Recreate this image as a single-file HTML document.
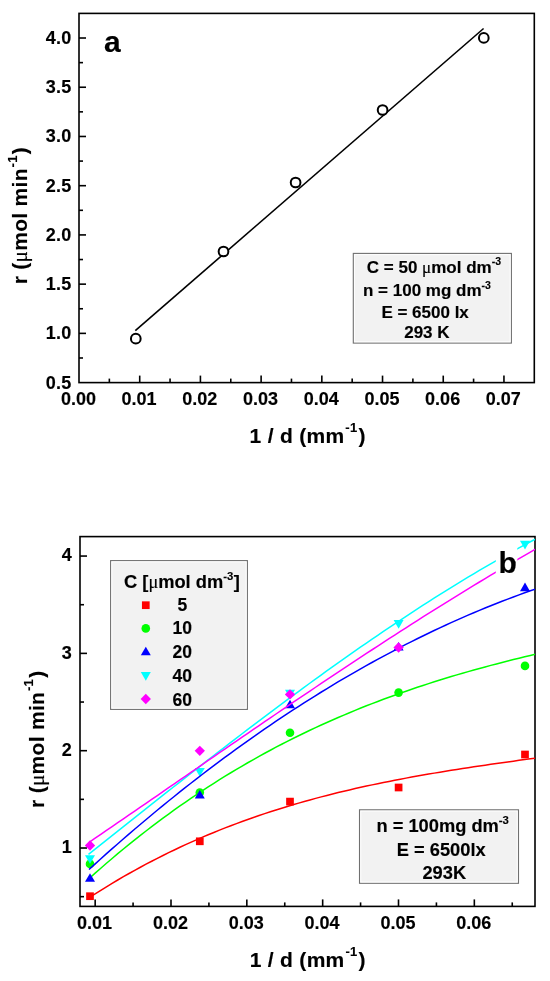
<!DOCTYPE html><html><head><meta charset="utf-8"><style>html,body{margin:0;padding:0;background:#fff;}svg{display:block;filter:blur(0.3px);}text{font-family:"Liberation Sans", Arial, sans-serif;font-weight:bold;fill:#000;stroke:#000;stroke-width:0.15px;}.mu{font-family:"Liberation Serif", "Times New Roman", serif;font-weight:normal;stroke-width:0.2px;}.ttl{letter-spacing:0.3px;}</style></head><body>
<svg width="550" height="981" viewBox="0 0 550 981">
<rect x="0" y="0" width="550" height="981" fill="#fff"/>
<g stroke="#000" stroke-width="1.6" fill="none">
<rect x="79.0" y="13.4" width="455.30" height="369.20"/>
<line x1="109.35" y1="382.6" x2="109.35" y2="378.6"/>
<line x1="139.71" y1="382.6" x2="139.71" y2="375.6"/>
<line x1="170.06" y1="382.6" x2="170.06" y2="378.6"/>
<line x1="200.41" y1="382.6" x2="200.41" y2="375.6"/>
<line x1="230.77" y1="382.6" x2="230.77" y2="378.6"/>
<line x1="261.12" y1="382.6" x2="261.12" y2="375.6"/>
<line x1="291.47" y1="382.6" x2="291.47" y2="378.6"/>
<line x1="321.83" y1="382.6" x2="321.83" y2="375.6"/>
<line x1="352.18" y1="382.6" x2="352.18" y2="378.6"/>
<line x1="382.53" y1="382.6" x2="382.53" y2="375.6"/>
<line x1="412.89" y1="382.6" x2="412.89" y2="378.6"/>
<line x1="443.24" y1="382.6" x2="443.24" y2="375.6"/>
<line x1="473.59" y1="382.6" x2="473.59" y2="378.6"/>
<line x1="503.95" y1="382.6" x2="503.95" y2="375.6"/>
<line x1="79.0" y1="357.99" x2="83.0" y2="357.99"/>
<line x1="79.0" y1="333.37" x2="86.0" y2="333.37"/>
<line x1="79.0" y1="308.76" x2="83.0" y2="308.76"/>
<line x1="79.0" y1="284.15" x2="86.0" y2="284.15"/>
<line x1="79.0" y1="259.53" x2="83.0" y2="259.53"/>
<line x1="79.0" y1="234.92" x2="86.0" y2="234.92"/>
<line x1="79.0" y1="210.31" x2="83.0" y2="210.31"/>
<line x1="79.0" y1="185.69" x2="86.0" y2="185.69"/>
<line x1="79.0" y1="161.08" x2="83.0" y2="161.08"/>
<line x1="79.0" y1="136.47" x2="86.0" y2="136.47"/>
<line x1="79.0" y1="111.85" x2="83.0" y2="111.85"/>
<line x1="79.0" y1="87.24" x2="86.0" y2="87.24"/>
<line x1="79.0" y1="62.63" x2="83.0" y2="62.63"/>
<line x1="79.0" y1="38.01" x2="86.0" y2="38.01"/>
</g>
<text x="71.6" y="388.60" font-size="18" text-anchor="end" letter-spacing="0.25">0.5</text>
<text x="71.6" y="339.37" font-size="18" text-anchor="end" letter-spacing="0.25">1.0</text>
<text x="71.6" y="290.15" font-size="18" text-anchor="end" letter-spacing="0.25">1.5</text>
<text x="71.6" y="240.92" font-size="18" text-anchor="end" letter-spacing="0.25">2.0</text>
<text x="71.6" y="191.69" font-size="18" text-anchor="end" letter-spacing="0.25">2.5</text>
<text x="71.6" y="142.47" font-size="18" text-anchor="end" letter-spacing="0.25">3.0</text>
<text x="71.6" y="93.24" font-size="18" text-anchor="end" letter-spacing="0.25">3.5</text>
<text x="71.6" y="44.01" font-size="18" text-anchor="end" letter-spacing="0.25">4.0</text>
<text x="78.40" y="404.6" font-size="18" text-anchor="middle">0.00</text>
<text x="139.11" y="404.6" font-size="18" text-anchor="middle">0.01</text>
<text x="199.81" y="404.6" font-size="18" text-anchor="middle">0.02</text>
<text x="260.52" y="404.6" font-size="18" text-anchor="middle">0.03</text>
<text x="321.23" y="404.6" font-size="18" text-anchor="middle">0.04</text>
<text x="381.93" y="404.6" font-size="18" text-anchor="middle">0.05</text>
<text x="442.64" y="404.6" font-size="18" text-anchor="middle">0.06</text>
<text x="503.35" y="404.6" font-size="18" text-anchor="middle">0.07</text>
<line x1="135.3" y1="330.6" x2="483.6" y2="28.5" stroke="#000" stroke-width="1.6"/>
<circle cx="135.8" cy="338.7" r="4.85" fill="#fff" stroke="#000" stroke-width="2.0"/>
<circle cx="223.5" cy="251.5" r="4.85" fill="#fff" stroke="#000" stroke-width="2.0"/>
<circle cx="295.6" cy="182.5" r="4.85" fill="#fff" stroke="#000" stroke-width="2.0"/>
<circle cx="382.6" cy="110.0" r="4.85" fill="#fff" stroke="#000" stroke-width="2.0"/>
<circle cx="483.8" cy="37.9" r="4.85" fill="#fff" stroke="#000" stroke-width="2.0"/>
<text x="104" y="52.3" font-size="30">a</text>
<rect x="353.3" y="253.4" width="158.10" height="89.70" fill="#f2f2f2" stroke="#707070" stroke-width="1.1"/>
<rect x="354.60" y="254.70" width="155.50" height="87.10" fill="none" stroke="#ffffff" stroke-width="0.9"/>
<text font-size="17"><tspan x="366.8" y="272.6">C = 50 <tspan class="mu">μ</tspan>mol dm<tspan font-size="10.5" dy="-7.7">-3</tspan></tspan><tspan x="363.0" y="296.3">n = 100 mg dm<tspan font-size="10.5" dy="-7.7">-3</tspan></tspan><tspan x="381.4" y="317.5">E = 6500 lx</tspan><tspan x="404.2" y="338.2">293 K</tspan></text>
<text x="249.6" y="442.9" font-size="21" class="ttl">1 / d (mm<tspan font-size="13" dy="-10.6" dx="0.8">-1</tspan><tspan dy="10.6" dx="1">)</tspan></text>
<text transform="translate(27.2,284.3) rotate(-90)" font-size="21" class="ttl">r (<tspan class="mu">μ</tspan>mol min<tspan font-size="13" dy="-10.6" dx="0.8">-1</tspan><tspan dy="10.6" dx="1">)</tspan></text>
<g stroke="#000" stroke-width="1.6" fill="none">
<rect x="80.0" y="536.6" width="455.00" height="369.80"/>
<line x1="95.17" y1="906.4" x2="95.17" y2="899.4"/>
<line x1="133.08" y1="906.4" x2="133.08" y2="902.4"/>
<line x1="171.00" y1="906.4" x2="171.00" y2="899.4"/>
<line x1="208.92" y1="906.4" x2="208.92" y2="902.4"/>
<line x1="246.83" y1="906.4" x2="246.83" y2="899.4"/>
<line x1="284.75" y1="906.4" x2="284.75" y2="902.4"/>
<line x1="322.67" y1="906.4" x2="322.67" y2="899.4"/>
<line x1="360.58" y1="906.4" x2="360.58" y2="902.4"/>
<line x1="398.50" y1="906.4" x2="398.50" y2="899.4"/>
<line x1="436.42" y1="906.4" x2="436.42" y2="902.4"/>
<line x1="474.33" y1="906.4" x2="474.33" y2="899.4"/>
<line x1="512.25" y1="906.4" x2="512.25" y2="902.4"/>
<line x1="80.0" y1="896.67" x2="84.0" y2="896.67"/>
<line x1="80.0" y1="848.01" x2="87.0" y2="848.01"/>
<line x1="80.0" y1="799.35" x2="84.0" y2="799.35"/>
<line x1="80.0" y1="750.69" x2="87.0" y2="750.69"/>
<line x1="80.0" y1="702.04" x2="84.0" y2="702.04"/>
<line x1="80.0" y1="653.38" x2="87.0" y2="653.38"/>
<line x1="80.0" y1="604.72" x2="84.0" y2="604.72"/>
<line x1="80.0" y1="556.06" x2="87.0" y2="556.06"/>
</g>
<text x="71.8" y="853.41" font-size="18" text-anchor="end">1</text>
<text x="71.8" y="756.09" font-size="18" text-anchor="end">2</text>
<text x="71.8" y="658.78" font-size="18" text-anchor="end">3</text>
<text x="71.8" y="561.46" font-size="18" text-anchor="end">4</text>
<text x="94.57" y="928.9" font-size="18" text-anchor="middle">0.01</text>
<text x="170.40" y="928.9" font-size="18" text-anchor="middle">0.02</text>
<text x="246.23" y="928.9" font-size="18" text-anchor="middle">0.03</text>
<text x="322.07" y="928.9" font-size="18" text-anchor="middle">0.04</text>
<text x="397.90" y="928.9" font-size="18" text-anchor="middle">0.05</text>
<text x="473.73" y="928.9" font-size="18" text-anchor="middle">0.06</text>
<text x="249.7" y="966.8" font-size="21" class="ttl">1 / d (mm<tspan font-size="13" dy="-10.6" dx="0.8">-1</tspan><tspan dy="10.6" dx="1">)</tspan></text>
<text transform="translate(43.9,807.9) rotate(-90)" font-size="21" class="ttl">r (<tspan class="mu">μ</tspan>mol min<tspan font-size="13" dy="-10.6" dx="0.8">-1</tspan><tspan dy="10.6" dx="1">)</tspan></text>
<defs><clipPath id="cb"><rect x="80.0" y="536.6" width="455.0" height="369.8"/></clipPath></defs>
<g clip-path="url(#cb)">
<rect x="86.15" y="892.35" width="7.7" height="7.7" fill="#ff0000"/>
<rect x="195.95" y="837.45" width="7.7" height="7.7" fill="#ff0000"/>
<rect x="286.15" y="797.75" width="7.7" height="7.7" fill="#ff0000"/>
<rect x="394.75" y="783.65" width="7.7" height="7.7" fill="#ff0000"/>
<rect x="521.15" y="750.65" width="7.7" height="7.7" fill="#ff0000"/>
<path d="M89.50,897.47 L95.15,893.84 L100.80,890.27 L106.46,886.78 L112.11,883.35 L117.76,879.99 L123.41,876.70 L129.06,873.48 L134.72,870.32 L140.37,867.22 L146.02,864.19 L151.67,861.22 L157.32,858.31 L162.97,855.47 L168.63,852.68 L174.28,849.95 L179.93,847.28 L185.58,844.67 L191.23,842.12 L196.89,839.62 L202.54,837.17 L208.19,834.78 L213.84,832.44 L219.49,830.15 L225.15,827.92 L230.80,825.73 L236.45,823.60 L242.10,821.51 L247.75,819.47 L253.41,817.48 L259.06,815.53 L264.71,813.63 L270.36,811.77 L276.01,809.96 L281.66,808.18 L287.32,806.45 L292.97,804.76 L298.62,803.11 L304.27,801.50 L309.92,799.93 L315.58,798.39 L321.23,796.89 L326.88,795.43 L332.53,794.00 L338.18,792.60 L343.84,791.23 L349.49,789.90 L355.14,788.60 L360.79,787.33 L366.44,786.09 L372.09,784.87 L377.75,783.69 L383.40,782.53 L389.05,781.39 L394.70,780.28 L400.35,779.20 L406.01,778.13 L411.66,777.09 L417.31,776.07 L422.96,775.07 L428.61,774.09 L434.27,773.13 L439.92,772.19 L445.57,771.26 L451.22,770.35 L456.87,769.46 L462.53,768.58 L468.18,767.71 L473.83,766.85 L479.48,766.01 L485.13,765.18 L490.78,764.36 L496.44,763.54 L502.09,762.74 L507.74,761.94 L513.39,761.14 L519.04,760.36 L524.70,759.57 L530.35,758.80 L536.00,758.02" fill="none" stroke="#ff0000" stroke-width="1.5"/>
<circle cx="90.00" cy="863.90" r="4.3" fill="#00ff00"/>
<circle cx="199.80" cy="792.60" r="4.3" fill="#00ff00"/>
<circle cx="290.00" cy="732.80" r="4.3" fill="#00ff00"/>
<circle cx="398.60" cy="692.60" r="4.3" fill="#00ff00"/>
<circle cx="525.00" cy="665.90" r="4.3" fill="#00ff00"/>
<path d="M89.50,878.23 L95.15,873.18 L100.80,868.19 L106.46,863.29 L112.11,858.45 L117.76,853.69 L123.41,849.01 L129.06,844.39 L134.72,839.85 L140.37,835.37 L146.02,830.97 L151.67,826.63 L157.32,822.36 L162.97,818.16 L168.63,814.03 L174.28,809.96 L179.93,805.96 L185.58,802.02 L191.23,798.15 L196.89,794.34 L202.54,790.59 L208.19,786.90 L213.84,783.28 L219.49,779.71 L225.15,776.21 L230.80,772.76 L236.45,769.37 L242.10,766.04 L247.75,762.76 L253.41,759.54 L259.06,756.38 L264.71,753.27 L270.36,750.22 L276.01,747.21 L281.66,744.26 L287.32,741.37 L292.97,738.52 L298.62,735.72 L304.27,732.98 L309.92,730.28 L315.58,727.63 L321.23,725.02 L326.88,722.47 L332.53,719.96 L338.18,717.49 L343.84,715.07 L349.49,712.69 L355.14,710.36 L360.79,708.07 L366.44,705.82 L372.09,703.61 L377.75,701.44 L383.40,699.31 L389.05,697.22 L394.70,695.17 L400.35,693.15 L406.01,691.17 L411.66,689.23 L417.31,687.32 L422.96,685.45 L428.61,683.61 L434.27,681.80 L439.92,680.03 L445.57,678.28 L451.22,676.57 L456.87,674.89 L462.53,673.24 L468.18,671.61 L473.83,670.02 L479.48,668.45 L485.13,666.91 L490.78,665.39 L496.44,663.90 L502.09,662.43 L507.74,660.99 L513.39,659.57 L519.04,658.17 L524.70,656.80 L530.35,655.44 L536.00,654.11" fill="none" stroke="#00ff00" stroke-width="1.5"/>
<polygon points="85.00,881.80 95.00,881.80 90.00,873.20" fill="#0000ff"/>
<polygon points="194.80,798.60 204.80,798.60 199.80,790.00" fill="#0000ff"/>
<polygon points="285.00,708.30 295.00,708.30 290.00,699.70" fill="#0000ff"/>
<polygon points="393.60,650.60 403.60,650.60 398.60,642.00" fill="#0000ff"/>
<polygon points="520.00,591.20 530.00,591.20 525.00,582.60" fill="#0000ff"/>
<polygon points="85.00,855.20 95.00,855.20 90.00,863.80" fill="#00ffff"/>
<polygon points="194.80,768.10 204.80,768.10 199.80,776.70" fill="#00ffff"/>
<polygon points="285.00,689.70 295.00,689.70 290.00,698.30" fill="#00ffff"/>
<polygon points="393.60,620.10 403.60,620.10 398.60,628.70" fill="#00ffff"/>
<polygon points="520.00,540.80 530.00,540.80 525.00,549.40" fill="#00ffff"/>
<path d="M89.00,869.46 L94.66,864.32 L100.32,859.23 L105.97,854.18 L111.63,849.17 L117.29,844.20 L122.95,839.27 L128.61,834.38 L134.27,829.53 L139.92,824.72 L145.58,819.95 L151.24,815.23 L156.90,810.54 L162.56,805.89 L168.22,801.29 L173.87,796.72 L179.53,792.20 L185.19,787.71 L190.85,783.27 L196.51,778.87 L202.16,774.51 L207.82,770.18 L213.48,765.90 L219.14,761.66 L224.80,757.46 L230.46,753.30 L236.11,749.18 L241.77,745.11 L247.43,741.07 L253.09,737.07 L258.75,733.11 L264.41,729.20 L270.06,725.32 L275.72,721.49 L281.38,717.69 L287.04,713.94 L292.70,710.22 L298.35,706.55 L304.01,702.92 L309.67,699.33 L315.33,695.78 L320.99,692.26 L326.65,688.79 L332.30,685.36 L337.96,681.97 L343.62,678.62 L349.28,675.32 L354.94,672.05 L360.59,668.82 L366.25,665.63 L371.91,662.49 L377.57,659.38 L383.23,656.31 L388.89,653.29 L394.54,650.30 L400.20,647.36 L405.86,644.45 L411.52,641.59 L417.18,638.77 L422.84,635.98 L428.49,633.24 L434.15,630.54 L439.81,627.88 L445.47,625.26 L451.13,622.68 L456.78,620.14 L462.44,617.64 L468.10,615.18 L473.76,612.76 L479.42,610.38 L485.08,608.04 L490.73,605.75 L496.39,603.49 L502.05,601.27 L507.71,599.10 L513.37,596.96 L519.03,594.86 L524.68,592.81 L530.34,590.80 L536.00,588.82" fill="none" stroke="#0000ff" stroke-width="1.5"/>
<path d="M88.50,854.46 L94.16,849.93 L99.83,845.41 L105.49,840.89 L111.16,836.37 L116.82,831.86 L122.49,827.35 L128.15,822.84 L133.82,818.34 L139.48,813.84 L145.15,809.35 L150.81,804.86 L156.47,800.38 L162.14,795.91 L167.80,791.45 L173.47,786.99 L179.13,782.54 L184.80,778.10 L190.46,773.66 L196.13,769.24 L201.79,764.83 L207.46,760.43 L213.12,756.04 L218.78,751.66 L224.45,747.29 L230.11,742.93 L235.78,738.59 L241.44,734.26 L247.11,729.94 L252.77,725.64 L258.44,721.35 L264.10,717.08 L269.77,712.82 L275.43,708.58 L281.09,704.36 L286.76,700.15 L292.42,695.96 L298.09,691.79 L303.75,687.64 L309.42,683.50 L315.08,679.38 L320.75,675.29 L326.41,671.21 L332.08,667.16 L337.74,663.12 L343.41,659.11 L349.07,655.12 L354.73,651.15 L360.40,647.20 L366.06,643.28 L371.73,639.38 L377.39,635.51 L383.06,631.66 L388.72,627.83 L394.39,624.04 L400.05,620.26 L405.72,616.52 L411.38,612.80 L417.04,609.11 L422.71,605.44 L428.37,601.81 L434.04,598.20 L439.70,594.62 L445.37,591.08 L451.03,587.56 L456.70,584.07 L462.36,580.62 L468.03,577.20 L473.69,573.80 L479.35,570.45 L485.02,567.12 L490.68,563.83 L496.35,560.57 L502.01,557.35 L507.68,554.16 L513.34,551.00 L519.01,547.89 L524.67,544.80 L530.34,541.76 L536.00,538.75" fill="none" stroke="#00ffff" stroke-width="1.5"/>
<polygon points="90.00,840.35 95.15,845.50 90.00,850.65 84.85,845.50" fill="#ff00ff"/>
<polygon points="199.80,745.65 204.95,750.80 199.80,755.95 194.65,750.80" fill="#ff00ff"/>
<polygon points="290.00,689.25 295.15,694.40 290.00,699.55 284.85,694.40" fill="#ff00ff"/>
<polygon points="398.60,642.35 403.75,647.50 398.60,652.65 393.45,647.50" fill="#ff00ff"/>
<path d="M89.50,842.03 L95.15,838.18 L100.80,834.32 L106.46,830.46 L112.11,826.59 L117.76,822.72 L123.41,818.84 L129.06,814.96 L134.72,811.08 L140.37,807.19 L146.02,803.31 L151.67,799.42 L157.32,795.52 L162.97,791.63 L168.63,787.74 L174.28,783.84 L179.93,779.95 L185.58,776.05 L191.23,772.16 L196.89,768.26 L202.54,764.37 L208.19,760.48 L213.84,756.59 L219.49,752.70 L225.15,748.81 L230.80,744.93 L236.45,741.05 L242.10,737.17 L247.75,733.30 L253.41,729.43 L259.06,725.57 L264.71,721.71 L270.36,717.85 L276.01,714.00 L281.66,710.16 L287.32,706.32 L292.97,702.49 L298.62,698.67 L304.27,694.85 L309.92,691.05 L315.58,687.25 L321.23,683.45 L326.88,679.67 L332.53,675.89 L338.18,672.13 L343.84,668.37 L349.49,664.63 L355.14,660.89 L360.79,657.16 L366.44,653.45 L372.09,649.75 L377.75,646.06 L383.40,642.38 L389.05,638.71 L394.70,635.06 L400.35,631.42 L406.01,627.79 L411.66,624.17 L417.31,620.57 L422.96,616.99 L428.61,613.42 L434.27,609.86 L439.92,606.32 L445.57,602.80 L451.22,599.29 L456.87,595.80 L462.53,592.32 L468.18,588.87 L473.83,585.43 L479.48,582.00 L485.13,578.60 L490.78,575.22 L496.44,571.85 L502.09,568.50 L507.74,565.17 L513.39,561.87 L519.04,558.58 L524.70,555.31 L530.35,552.07 L536.00,548.84" fill="none" stroke="#ff00ff" stroke-width="1.5"/>
</g>
<rect x="495.8" y="545" width="21.5" height="34" fill="#fff"/>
<text x="498.5" y="572.5" font-size="30">b</text>
<rect x="110.6" y="560.6" width="136.80" height="148.80" fill="#f2f2f2" stroke="#707070" stroke-width="1.1"/>
<rect x="111.90" y="561.90" width="134.20" height="146.20" fill="none" stroke="#ffffff" stroke-width="0.9"/>
<text x="124.0" y="587.8" font-size="18.3">C [<tspan class="mu">μ</tspan>mol dm<tspan font-size="11.3" dy="-8.3">-3</tspan><tspan dy="8.3" dx="0.5">]</tspan></text>
<rect x="141.95" y="601.35" width="7.7" height="7.7" fill="#ff0000"/>
<circle cx="145.80" cy="628.40" r="4.3" fill="#00ff00"/>
<polygon points="140.80,655.30 150.80,655.30 145.80,646.70" fill="#0000ff"/>
<polygon points="140.80,672.10 150.80,672.10 145.80,680.70" fill="#00ffff"/>
<polygon points="145.80,693.85 150.95,699.00 145.80,704.15 140.65,699.00" fill="#ff00ff"/>
<text x="182.3" y="611.0" font-size="17.5" text-anchor="middle">5</text>
<text x="182.3" y="634.2" font-size="17.5" text-anchor="middle">10</text>
<text x="182.3" y="658.3" font-size="17.5" text-anchor="middle">20</text>
<text x="182.3" y="682.0" font-size="17.5" text-anchor="middle">40</text>
<text x="182.3" y="705.8" font-size="17.5" text-anchor="middle">60</text>
<rect x="359.5" y="809.8" width="159.00" height="73.50" fill="#f2f2f2" stroke="#707070" stroke-width="1.1"/>
<rect x="360.80" y="811.10" width="156.40" height="70.90" fill="none" stroke="#ffffff" stroke-width="0.9"/>
<text font-size="18.3"><tspan x="376.4" y="832.1">n = 100mg dm<tspan font-size="11.3" dy="-8.3">-3</tspan></tspan><tspan x="396.7" y="855.6">E = 6500lx</tspan><tspan x="422.4" y="878.9">293K</tspan></text>
</svg></body></html>
